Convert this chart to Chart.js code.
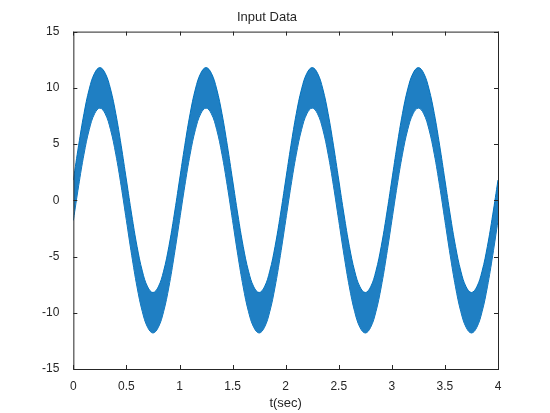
<!DOCTYPE html>
<html>
<head>
<meta charset="utf-8">
<script src="https://cdn.jsdelivr.net/npm/chart.js@4"></script>
<style>
  html, body { margin: 0; padding: 0; background: #fff; }
  #wrap { width: 550px; height: 413px; }
</style>
</head>
<body>
<div id="wrap"><canvas id="inputChart"></canvas></div>
<script>
// time samples (sec)
const t = [0,0.05,0.1,0.15,0.2,0.25,0.3,0.35,0.4,0.45,0.5,0.55,0.6,0.65,0.7,0.75,0.8,0.85,0.9,0.95,
  1,1.05,1.1,1.15,1.2,1.25,1.3,1.35,1.4,1.45,1.5,1.55,1.6,1.65,1.7,1.75,1.8,1.85,1.9,1.95,
  2,2.05,2.1,2.15,2.2,2.25,2.3,2.35,2.4,2.45,2.5,2.55,2.6,2.65,2.7,2.75,2.8,2.85,2.9,2.95,
  3,3.05,3.1,3.15,3.2,3.25,3.3,3.35,3.4,3.45,3.5,3.55,3.6,3.65,3.7,3.75,3.8,3.85,3.9,3.95,4];
// upper and lower envelope of the dense oscillating signal
const upper = [1.8,4.9,7.7,9.9,11.3,11.8,11.3,9.9,7.7,4.9,1.8,-1.3,-4.1,-6.3,-7.7,-8.2,-7.7,-6.3,-4.1,-1.3,
  1.8,4.9,7.7,9.9,11.3,11.8,11.3,9.9,7.7,4.9,1.8,-1.3,-4.1,-6.3,-7.7,-8.2,-7.7,-6.3,-4.1,-1.3,
  1.8,4.9,7.7,9.9,11.3,11.8,11.3,9.9,7.7,4.9,1.8,-1.3,-4.1,-6.3,-7.7,-8.2,-7.7,-6.3,-4.1,-1.3,
  1.8,4.9,7.7,9.9,11.3,11.8,11.3,9.9,7.7,4.9,1.8,-1.3,-4.1,-6.3,-7.7,-8.2,-7.7,-6.3,-4.1,-1.3,1.8];
const lower = [-1.8,1.3,4.1,6.3,7.7,8.2,7.7,6.3,4.1,1.3,-1.8,-4.9,-7.7,-9.9,-11.3,-11.8,-11.3,-9.9,-7.7,-4.9,
  -1.8,1.3,4.1,6.3,7.7,8.2,7.7,6.3,4.1,1.3,-1.8,-4.9,-7.7,-9.9,-11.3,-11.8,-11.3,-9.9,-7.7,-4.9,
  -1.8,1.3,4.1,6.3,7.7,8.2,7.7,6.3,4.1,1.3,-1.8,-4.9,-7.7,-9.9,-11.3,-11.8,-11.3,-9.9,-7.7,-4.9,
  -1.8,1.3,4.1,6.3,7.7,8.2,7.7,6.3,4.1,1.3,-1.8,-4.9,-7.7,-9.9,-11.3,-11.8,-11.3,-9.9,-7.7,-4.9,-1.8];

const blue = '#0072BD';
const pts = arr => arr.map((v, i) => ({ x: t[i], y: v }));

// MATLAB style box with inward ticks
const boxPlugin = {
  id: 'box',
  afterDraw(chart) {
    const { ctx, chartArea: a, scales: { x, y } } = chart;
    ctx.save();
    ctx.strokeStyle = '#262626';
    ctx.lineWidth = 1;
    ctx.strokeRect(a.left + 0.5, a.top + 0.5, a.right - a.left, a.bottom - a.top);
    ctx.beginPath();
    x.ticks.forEach(tk => {
      const px = Math.round(x.getPixelForValue(tk.value)) + 0.5;
      ctx.moveTo(px, a.bottom); ctx.lineTo(px, a.bottom - 4);
      ctx.moveTo(px, a.top); ctx.lineTo(px, a.top + 4);
    });
    y.ticks.forEach(tk => {
      const py = Math.round(y.getPixelForValue(tk.value)) + 0.5;
      ctx.moveTo(a.left, py); ctx.lineTo(a.left + 4, py);
      ctx.moveTo(a.right, py); ctx.lineTo(a.right - 4, py);
    });
    ctx.stroke();
    ctx.restore();
  }
};

new Chart(document.getElementById('inputChart'), {
  type: 'line',
  data: {
    datasets: [
      { data: pts(upper), borderColor: blue, borderWidth: 1, pointRadius: 0, tension: 0.4,
        fill: '+1', backgroundColor: '#1f7fc3' },
      { data: pts(lower), borderColor: blue, borderWidth: 1, pointRadius: 0, tension: 0.4, fill: false }
    ]
  },
  options: {
    responsive: true,
    maintainAspectRatio: false,
    animation: false,
    layout: { padding: { left: 36, right: 52, top: 6, bottom: 2 } },
    plugins: {
      legend: { display: false },
      tooltip: { enabled: false },
      title: { display: true, text: 'Input Data', color: '#262626',
        font: { family: 'Liberation Sans, Arial', size: 13, weight: 'normal' }, padding: { top: 4, bottom: 6 } }
    },
    scales: {
      x: {
        type: 'linear', min: 0, max: 4,
        ticks: { stepSize: 0.5, color: '#262626', font: { family: 'Liberation Sans, Arial', size: 12 },
          maxRotation: 0, padding: 2, callback: v => String(v) },
        grid: { display: false },
        border: { display: false },
        title: { display: true, text: 't(sec)', color: '#262626',
          font: { family: 'Liberation Sans, Arial', size: 13 }, padding: { top: 0, bottom: 0 } }
      },
      y: {
        min: -15, max: 15,
        ticks: { stepSize: 5, color: '#262626', font: { family: 'Liberation Sans, Arial', size: 12 }, padding: 6 },
        grid: { display: false },
        border: { display: false }
      }
    }
  },
  plugins: [boxPlugin]
});
</script>
</body>
</html>
